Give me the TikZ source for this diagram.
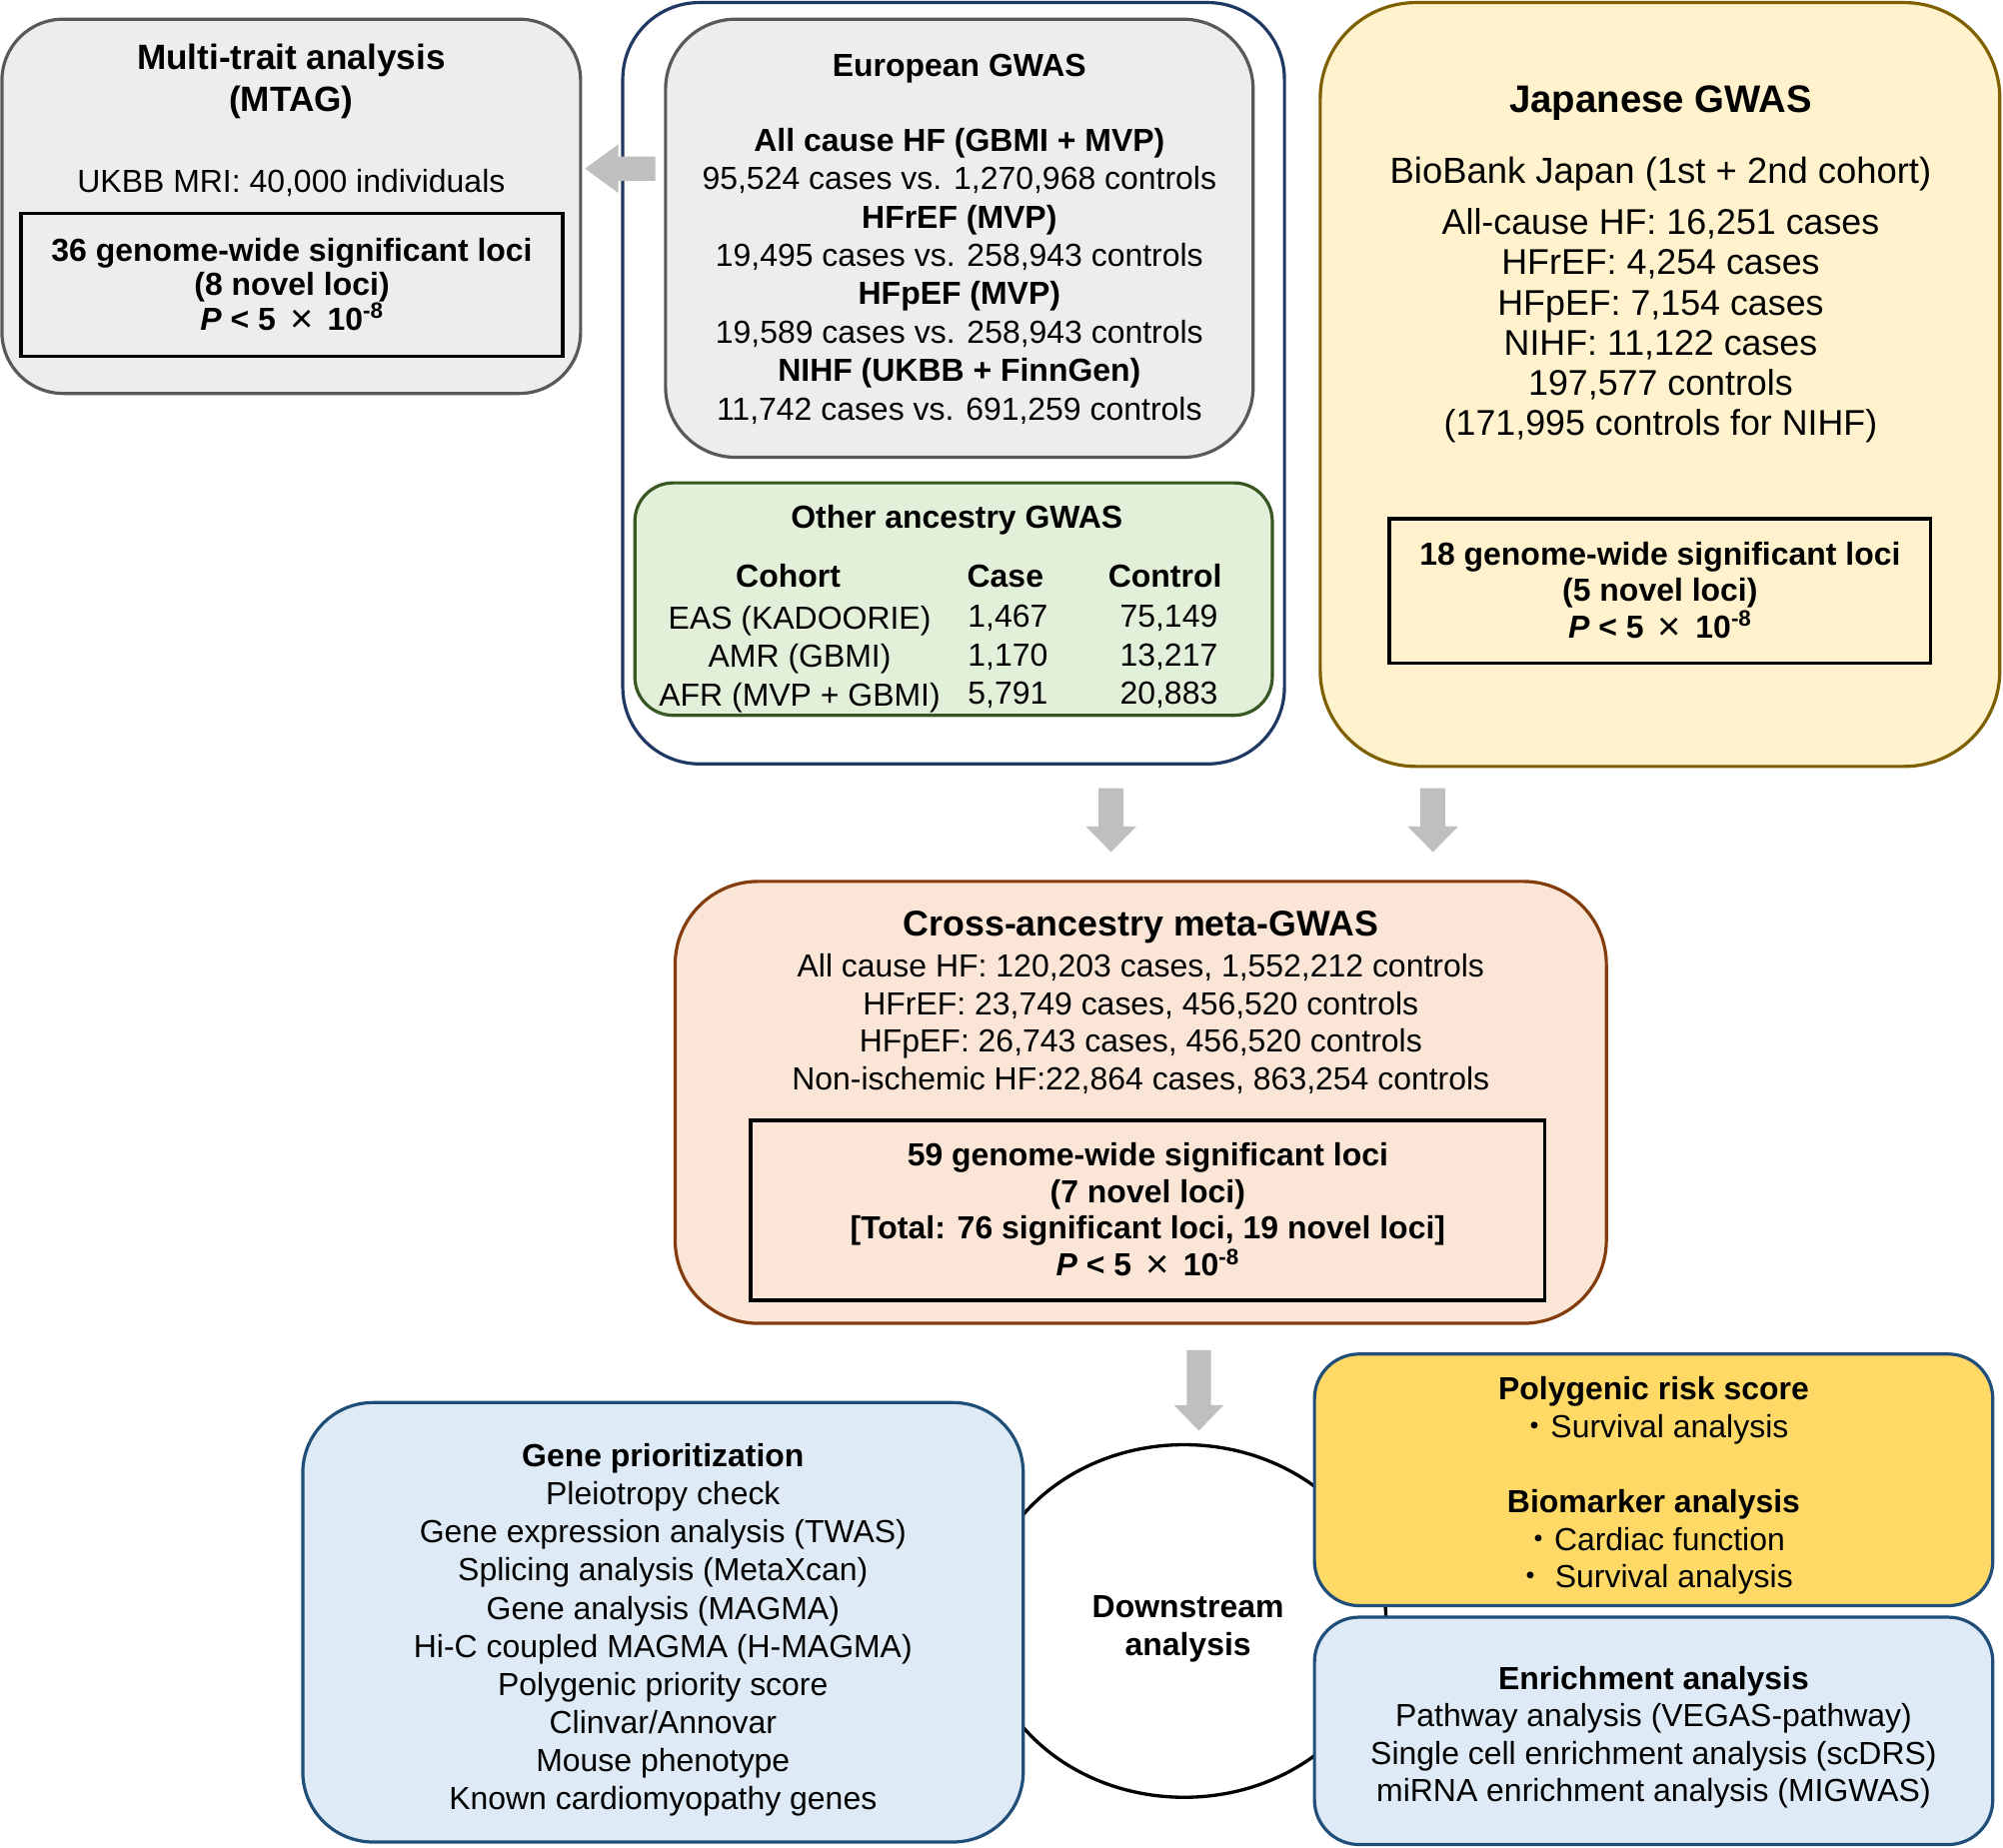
\documentclass[tikz,border=0pt]{standalone}
\usepackage{fontspec}
\setmainfont{Liberation Sans}
\newfontfamily\cjk{Noto Sans CJK JP}
\usetikzlibrary{shapes.geometric}

\definecolor{grayfill}{HTML}{EDEDED}
\definecolor{grayline}{HTML}{595959}
\definecolor{navy}{HTML}{203864}
\definecolor{greenfill}{HTML}{E2F0D9}
\definecolor{greenline}{HTML}{385723}
\definecolor{yelfill}{HTML}{FFF2CC}
\definecolor{yelline}{HTML}{7F6000}
\definecolor{peach}{HTML}{FBE5D6}
\definecolor{brownline}{HTML}{843C0C}
\definecolor{bluefill}{HTML}{DEEBF7}
\definecolor{blueline}{HTML}{1F4E79}
\definecolor{gold}{HTML}{FFD966}
\definecolor{arrowgray}{HTML}{BFBFBF}

\newcommand\pval{\textbf{\textit{P} < 5}\ \,\raisebox{-1.6pt}{\scalebox{1.25}{\mdseries ×}}\ \,\textbf{10\textsuperscript{-8}}}

\begin{document}
\begin{tikzpicture}[x=1pt,y=-1pt,
  rbox/.style={rectangle, inner sep=0pt, line width=2.5pt},
  res/.style={rectangle, draw=black, line width=2.6pt, inner sep=0pt, align=center},
  txt/.style={inner sep=0pt, align=center, font=\fontsize{25}{30}\selectfont},
  blk/.style={fill=arrowgray}]
\useasboundingbox (0,0) rectangle (1568,1446.7);

% ---------- European group ----------
\node[rbox, draw=navy, rounded corners=60pt, minimum width=518pt, minimum height=596pt] (eurgrp) at (746.5,300) {};
\node[rbox, draw=grayline, fill=grayfill, rounded corners=55pt, minimum width=460pt, minimum height=343pt] (eur) at (751,186.5) {};
\node[txt] (eurtxt) at (751,187) {\textbf{European GWAS}\\[29pt]
  \textbf{All cause HF (GBMI + MVP)}\\
  95,524 cases vs. 1,270,968 controls\\
  \textbf{HFrEF (MVP)}\\
  19,495 cases vs. 258,943 controls\\
  \textbf{HFpEF (MVP)}\\
  19,589 cases vs. 258,943 controls\\
  \textbf{NIHF (UKBB + FinnGen)}\\
  11,742 cases vs. 691,259 controls};

\node[rbox, draw=greenline, fill=greenfill, rounded corners=30pt, minimum width=499pt, minimum height=182pt] (oth) at (746.5,469) {};
\node[txt, font=\bfseries\fontsize{25}{30}\selectfont] (othtitle) at (749,407) {Other ancestry GWAS};
\node[txt, font=\bfseries\fontsize{25}{30}\selectfont] (hdra) at (617,451) {Cohort};
\node[txt, font=\bfseries\fontsize{25}{30}\selectfont] (hdrb) at (787,451) {Case};
\node[txt, font=\bfseries\fontsize{25}{30}\selectfont] (hdrc) at (912,451) {Control};
\node[txt] (cola) at (626,516) {EAS (KADOORIE)\\AMR (GBMI)\\AFR (MVP + GBMI)};
\node[txt] (colb) at (789,514) {1,467\\1,170\\5,791};
\node[txt] (colc) at (915,514) {75,149\\13,217\\20,883};

% ---------- MTAG ----------
\node[rbox, draw=grayline, fill=grayfill, rounded corners=48pt, minimum width=453pt, minimum height=293pt] (mtag) at (228,161.5) {};
\node[txt, font=\bfseries\fontsize{27.5}{33}\selectfont] (mtagtitle) at (228,64) {Multi-trait analysis\\(MTAG)};
\node[txt] (mtagpop) at (228,143.5) {UKBB MRI: 40,000 individuals};
\node[res, font=\bfseries\fontsize{25}{27}\selectfont, minimum width=424pt, minimum height=112pt] (mtagres) at (228.5,223)
  {36 genome-wide significant loci\\(8 novel loci)\\\pval};

% ---------- Japanese ----------
\node[rbox, draw=yelline, fill=yelfill, rounded corners=75pt, minimum width=532pt, minimum height=598pt] (jpn) at (1299.5,301) {};
\node[txt, font=\bfseries\fontsize{30}{36}\selectfont] (jpntitle) at (1300,81) {Japanese GWAS};
\node[txt, font=\fontsize{28.5}{32}\selectfont] (jpnbb) at (1300,136.5) {BioBank Japan (1st + 2nd cohort)};
\node[txt, font=\fontsize{28}{31.4}\selectfont] (jpntxt) at (1300,255) {All-cause HF: 16,251 cases\\
  HFrEF: 4,254 cases\\HFpEF: 7,154 cases\\NIHF: 11,122 cases\\197,577 controls\\(171,995 controls for NIHF)};
\node[res, font=\bfseries\fontsize{25}{28.5}\selectfont, minimum width=424pt, minimum height=113pt] (jpnres) at (1299.5,462.5)
  {18 genome-wide significant loci\\(5 novel loci)\\\pval};

% ---------- gray arrows ----------
\fill[blk] (513,122.5) -- (484,122.5) -- (484,113) -- (458,132) -- (484,151) -- (484,141.5) -- (513,141.5) -- cycle;
\fill[blk] (860,617) -- (879.5,617) -- (879.5,647) -- (889.5,647) -- (869.8,667) -- (850,647) -- (860,647) -- cycle;
\fill[blk] (1112,617) -- (1131.5,617) -- (1131.5,647) -- (1141.5,647) -- (1121.7,667) -- (1102,647) -- (1112,647) -- cycle;
\fill[blk] (929,1057) -- (948,1057) -- (948,1100) -- (958,1100) -- (938.5,1120) -- (919,1100) -- (929,1100) -- cycle;

% ---------- Cross-ancestry ----------
\node[rbox, draw=brownline, fill=peach, rounded corners=65pt, minimum width=729pt, minimum height=346pt] (cross) at (893,863) {};
\node[txt, font=\bfseries\fontsize{28}{32}\selectfont] (crosstitle) at (893,726) {Cross-ancestry meta-GWAS};
\node[txt, font=\fontsize{25}{29.3}\selectfont] (crosstxt) at (893,801.5) {All cause HF: 120,203 cases, 1,552,212 controls\\
  HFrEF: 23,749 cases, 456,520 controls\\HFpEF: 26,743 cases, 456,520 controls\\Non-ischemic HF:22,864 cases, 863,254 controls};
\node[res, font=\bfseries\fontsize{25}{28.7}\selectfont, minimum width=622pt, minimum height=141pt] (crossres) at (898.5,947.5)
  {59 genome-wide significant loci\\(7 novel loci)\\{[Total: 76 significant loci, 19 novel loci]}\\\pval};

% ---------- Downstream ----------
\node[ellipse, draw=black, line width=2.6pt, inner sep=0pt, minimum width=316pt, minimum height=276pt] (down) at (927,1269) {};
\node[rbox, draw=blueline, fill=bluefill, rounded corners=55pt, minimum width=564pt, minimum height=344pt] (gene) at (519,1270) {};
\node[txt, font=\fontsize{25}{29.8}\selectfont] (genetxt) at (519,1276) {\textbf{Gene prioritization}\\
  Pleiotropy check\\Gene expression analysis (TWAS)\\Splicing analysis (MetaXcan)\\Gene analysis (MAGMA)\\
  Hi-C coupled MAGMA (H-MAGMA)\\Polygenic priority score\\Clinvar/Annovar\\Mouse phenotype\\Known cardiomyopathy genes};
\node[txt, font=\bfseries\fontsize{25}{30}\selectfont] (downtxt) at (930,1275) {Downstream\\analysis};

\node[rbox, draw=blueline, fill=gold, rounded corners=35pt, minimum width=531pt, minimum height=197pt] (prs) at (1294.5,1158.5) {};
\node[txt, font=\fontsize{25}{29.4}\selectfont] (prstxt) at (1294.5,1163) {\textbf{Polygenic risk score}\\
  {\cjk ・}Survival analysis\\[29.4pt]
  \textbf{Biomarker analysis}\\
  {\cjk ・}Cardiac function\\
  {\cjk ・} Survival analysis};

\node[rbox, draw=blueline, fill=bluefill, rounded corners=35pt, minimum width=531pt, minimum height=178pt] (enr) at (1294.5,1355) {};
\node[txt, font=\fontsize{25}{29.3}\selectfont] (enrtxt) at (1294.5,1360) {\textbf{Enrichment analysis}\\
  Pathway analysis (VEGAS-pathway)\\Single cell enrichment analysis (scDRS)\\miRNA enrichment analysis (MIGWAS)};
\end{tikzpicture}
\end{document}
